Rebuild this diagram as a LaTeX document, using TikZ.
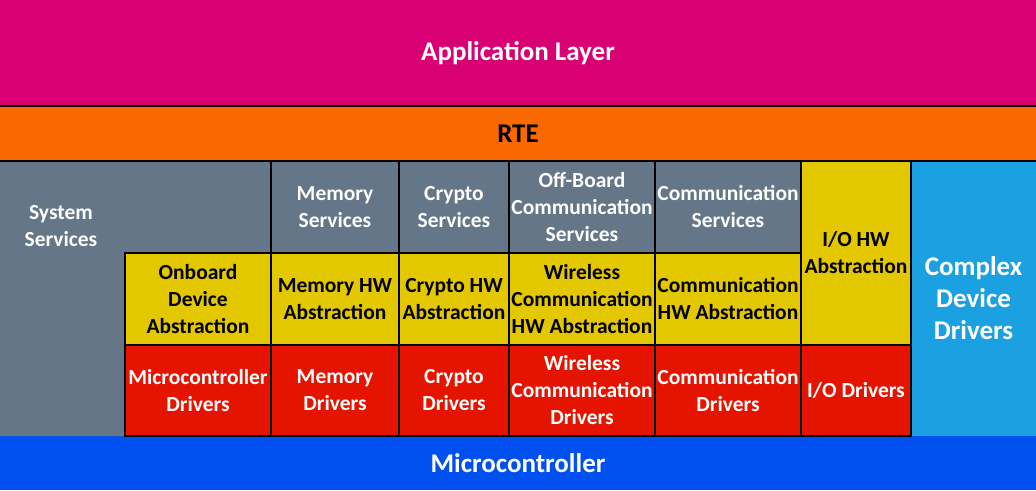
\documentclass[tikz,border=0pt]{standalone}
\usepackage{fontspec}
\setmainfont{Carlito}
\definecolor{cMagenta}{HTML}{D80073}
\definecolor{cOrange}{HTML}{FA6800}
\definecolor{cSlate}{HTML}{647687}
\definecolor{cYellow}{HTML}{E3C800}
\definecolor{cRed}{HTML}{E51400}
\definecolor{cBlue}{HTML}{1BA1E2}
\definecolor{cCobalt}{HTML}{0050EF}
\begin{document}
\begin{tikzpicture}[x=1pt,y=-1pt,
  box/.style={anchor=north west,inner sep=0pt,align=center,outer sep=0pt},
  cell/.style={box,draw=black,line width=1.3pt,font=\bfseries\fontsize{21.5}{27}\selectfont},
  big/.style={box,font=\bfseries\fontsize{27}{32}\selectfont},
  svc/.style={cell,fill=cSlate,text=white},
  hw/.style={cell,fill=cYellow,text=black},
  drv/.style={cell,fill=cRed,text=white},
  sep/.style={draw=black,line width=1.3pt}]
\useasboundingbox (0,0) rectangle (1036,490);
% background layers
\node[big,fill=cMagenta,text=white,minimum width=1036pt,minimum height=106pt] (app) at (0,0) {Application Layer};
\node[big,fill=cOrange,text=black,minimum width=1036pt,minimum height=55pt] (rte) at (0,106) {RTE};
\node[big,fill=cCobalt,text=white,minimum width=1036pt,minimum height=54pt] (mcu) at (0,436) {Microcontroller};
\node[big,fill=cBlue,text=white,minimum width=125pt,minimum height=275pt] (cdd) at (911,161) {Complex\\Device\\Drivers};
% system services (L-shaped area)
\fill[cSlate] (0,161) -- (271,161) -- (271,253) -- (125,253) -- (125,436) -- (0,436) -- cycle;
\node[box,anchor=center,text=white,font=\bfseries\fontsize{21.5}{27}\selectfont] (sys) at (61,226) {System\\Services};
% services row
\node[svc,minimum width=128pt,minimum height=92pt] (memsvc) at (271,161) {Memory\\Services};
\node[svc,minimum width=110pt,minimum height=92pt] (cryptosvc) at (399,161) {Crypto\\Services};
\node[svc,minimum width=146pt,minimum height=92pt] (offsvc) at (509,161) {Off-Board\\Communication\\Services};
\node[svc,minimum width=146pt,minimum height=92pt] (commsvc) at (655,161) {Communication\\Services};
\node[hw,minimum width=110pt,minimum height=184pt] (iohw) at (801,161) {I/O HW\\Abstraction};
% hw abstraction row
\node[hw,minimum width=146pt,minimum height=92pt] (onboard) at (125,253) {Onboard\\Device\\Abstraction};
\node[hw,minimum width=128pt,minimum height=92pt] (memhw) at (271,253) {Memory HW\\Abstraction};
\node[hw,minimum width=110pt,minimum height=92pt] (cryptohw) at (399,253) {Crypto HW\\Abstraction};
\node[hw,minimum width=146pt,minimum height=92pt] (wlhw) at (509,253) {Wireless\\Communication\\HW Abstraction};
\node[hw,minimum width=146pt,minimum height=92pt] (commhw) at (655,253) {Communication\\HW Abstraction};
% drivers row
\node[drv,minimum width=146pt,minimum height=91pt] (mcudrv) at (125,345) {Microcontroller\\Drivers};
\node[drv,minimum width=128pt,minimum height=91pt] (memdrv) at (271,345) {Memory\\Drivers};
\node[drv,minimum width=110pt,minimum height=91pt] (cryptodrv) at (399,345) {Crypto\\Drivers};
\node[drv,minimum width=146pt,minimum height=91pt] (wldrv) at (509,345) {Wireless\\Communication\\Drivers};
\node[drv,minimum width=146pt,minimum height=91pt] (commdrv) at (655,345) {Communication\\Drivers};
\node[drv,minimum width=110pt,minimum height=91pt] (iodrv) at (801,345) {I/O Drivers};
% layer separators
\draw[sep] (app.south west) -- (app.south east);
\draw[sep] (rte.south west) -- (rte.south east);
\end{tikzpicture}
\end{document}
